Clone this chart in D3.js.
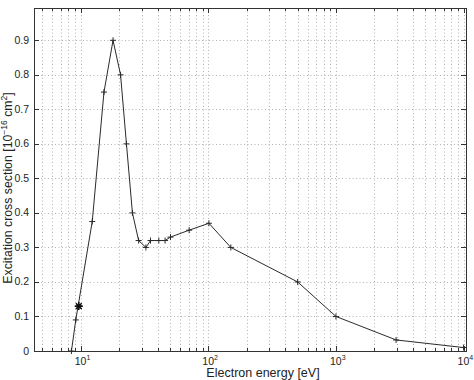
<!DOCTYPE html>
<html>
<head>
<meta charset="utf-8">
<script src="https://cdn.jsdelivr.net/npm/d3@7"></script>
<style>
body { margin: 0; background: #fff; }
text { font-family: "Liberation Sans", Arial, sans-serif; fill: #222; }
</style>
</head>
<body>
<div id="chart"></div>
<script>
// values
var energy = [8.45, 9.14, 12.3, 15.2, 17.9, 20.5, 22.8, 25.4, 28.4, 32.4, 35.2, 40.9, 45.8, 50.5, 70.7, 101, 150, 501, 1000, 2960, 10000];
var cross  = [0, 0.09, 0.375, 0.75, 0.9, 0.8, 0.6, 0.4, 0.32, 0.30, 0.32, 0.32, 0.32, 0.33, 0.35, 0.37, 0.30, 0.20, 0.10, 0.032, 0.01];

var starEnergy = [9.65];
var starCross  = [0.13];

var yTicks = [0, 0.1, 0.2, 0.3, 0.4, 0.5, 0.6, 0.7, 0.8, 0.9];
var yTickLabels = ["0", "0.1", "0.2", "0.3", "0.4", "0.5", "0.6", "0.7", "0.8", "0.9"];
var xTicks = [10, 100, 1000, 10000];
var xTickExp = ["1", "2", "3", "4"];

function init(){

    var w = 474;
    var h = 380;
    var left = 34, right = 466, top = 8, bottom = 351;

    var x = d3.scaleLog()
              .domain([4.3, 10450])
              .range([left, right]);

    var y = d3.scaleLinear()
              .domain([0, 0.9936])
              .range([bottom, top]);

    var svg = d3.select("#chart")
                .append("svg")
                .attr("width", w)
                .attr("height", h);

    // minor positions on the log axis (2..9 of each decade)
    var minor = [];
    [1, 10, 100, 1000].forEach(function(dec){
        for (var k = 2; k <= 9; k++) {
            var v = k * dec;
            if (v > x.domain()[0] && v < x.domain()[1]) minor.push(v);
        }
    });
    var allX = minor.concat(xTicks);

    // grid
    var grid = svg.append("g")
                  .attr("stroke", "#a0a0a0")
                  .attr("stroke-width", 0.8)
                  .attr("stroke-dasharray", "1,2.5");

    grid.selectAll("line.gx")
        .data(allX)
        .enter()
        .append("line")
        .attr("class", "gx")
        .attr("x1", function(d){ return Math.round(x(d)) + 0.5; })
        .attr("x2", function(d){ return Math.round(x(d)) + 0.5; })
        .attr("y1", top)
        .attr("y2", bottom);

    grid.selectAll("line.gy")
        .data(yTicks.slice(1))
        .enter()
        .append("line")
        .attr("class", "gy")
        .attr("x1", left)
        .attr("x2", right)
        .attr("y1", function(d){ return Math.round(y(d)) + 0.5; })
        .attr("y2", function(d){ return Math.round(y(d)) + 0.5; });

    // ticks on all four sides
    var ticks = svg.append("g")
                   .attr("stroke", "#333")
                   .attr("stroke-width", 1);

    allX.forEach(function(d){
        var len = xTicks.indexOf(d) >= 0 ? 5 : 3;
        var px = Math.round(x(d)) + 0.5;
        ticks.append("line").attr("x1", px).attr("x2", px).attr("y1", bottom).attr("y2", bottom - len);
        ticks.append("line").attr("x1", px).attr("x2", px).attr("y1", top).attr("y2", top + len);
    });

    yTicks.forEach(function(d){
        var py = Math.round(y(d)) + 0.5;
        ticks.append("line").attr("x1", left).attr("x2", left + 5).attr("y1", py).attr("y2", py);
        ticks.append("line").attr("x1", right).attr("x2", right - 5).attr("y1", py).attr("y2", py);
    });

    // frame
    svg.append("rect")
       .attr("x", left + 0.5)
       .attr("y", top + 0.5)
       .attr("width", right - left)
       .attr("height", bottom - top)
       .attr("fill", "none")
       .attr("stroke", "#333")
       .attr("stroke-width", 1);

    // tick labels
    svg.selectAll("text.yl")
       .data(yTicks)
       .enter()
       .append("text")
       .attr("class", "yl")
       .attr("x", left - 5)
       .attr("y", function(d){ return y(d) + 3.5; })
       .attr("text-anchor", "end")
       .attr("font-size", 10.5)
       .text(function(d, i){ return yTickLabels[i]; });

    var xl = svg.selectAll("text.xl")
       .data(xTicks)
       .enter()
       .append("text")
       .attr("class", "xl")
       .attr("x", function(d){ return x(d) - 6; })
       .attr("y", bottom + 14)
       .attr("font-size", 10.5);
    xl.append("tspan").text("10");
    xl.append("tspan")
      .attr("dy", -5)
      .attr("font-size", 7)
      .text(function(d, i){ return xTickExp[i]; });

    // axis titles
    svg.append("text")
       .attr("x", 263)
       .attr("y", 377)
       .attr("text-anchor", "middle")
       .attr("font-size", 12.5)
       .text("Electron energy [eV]");

    var yt = svg.append("text")
       .attr("transform", "translate(12,188) rotate(-90)")
       .attr("text-anchor", "middle")
       .attr("font-size", 12.3);
    yt.append("tspan").text("Excitation cross section [10");
    yt.append("tspan").attr("dy", -5).attr("font-size", 8.5).text("\u221216");
    yt.append("tspan").attr("dy", 5).text(" cm");
    yt.append("tspan").attr("dy", -5).attr("font-size", 8.5).text("2");
    yt.append("tspan").attr("dy", 5).text("]");

    // data line
    var pts = energy.map(function(e, i){ return [e, cross[i]]; });

    var line = d3.line()
                 .x(function(d){ return x(d[0]); })
                 .y(function(d){ return y(d[1]); });

    svg.append("path")
       .datum(pts)
       .attr("d", line)
       .attr("fill", "none")
       .attr("stroke", "#2a2a2a")
       .attr("stroke-width", 1);

    // '+' markers
    var m = 3;
    svg.selectAll("path.plus")
       .data(pts)
       .enter()
       .append("path")
       .attr("class", "plus")
       .attr("d", function(d){
           var cx = x(d[0]), cy = y(d[1]);
           return "M" + (cx - m) + "," + cy + "H" + (cx + m) +
                  "M" + cx + "," + (cy - m) + "V" + (cy + m);
       })
       .attr("stroke", "#2a2a2a")
       .attr("stroke-width", 1);

    // '*' marker
    var s = 4;
    svg.selectAll("path.star")
       .data(starEnergy.map(function(e, i){ return [e, starCross[i]]; }))
       .enter()
       .append("path")
       .attr("class", "star")
       .attr("d", function(d){
           var cx = x(d[0]), cy = y(d[1]), q = s * 0.72;
           return "M" + (cx - s) + "," + cy + "H" + (cx + s) +
                  "M" + cx + "," + (cy - s) + "V" + (cy + s) +
                  "M" + (cx - q) + "," + (cy - q) + "L" + (cx + q) + "," + (cy + q) +
                  "M" + (cx - q) + "," + (cy + q) + "L" + (cx + q) + "," + (cy - q);
       })
       .attr("stroke", "#111")
       .attr("stroke-width", 1.6);
}

window.onload = init;
</script>
</body>
</html>
